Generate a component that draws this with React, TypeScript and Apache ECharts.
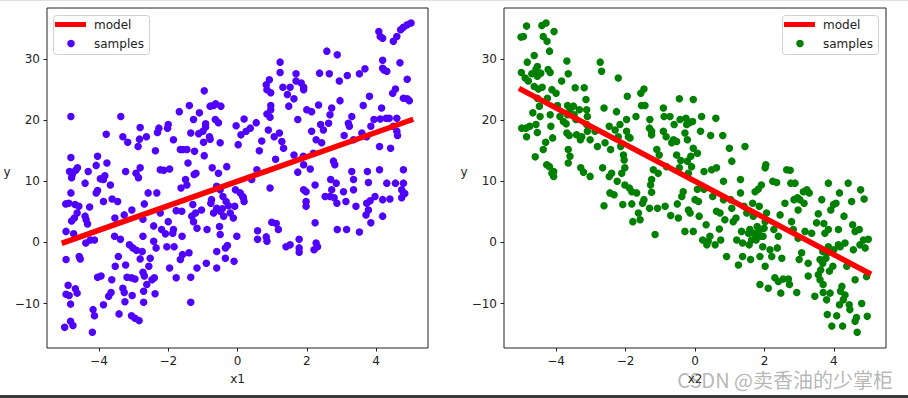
import React, { useEffect, useRef } from "react";
import * as echarts from "echarts";

// Sample points (x1, y) — left panel
const leftSamples: [number, number][] = [
  [-4.81, 20.6], [-4.81, 13.9], [-4.85, 11.6], [-4.77, 11.1], [-4.79, 10.6], [-4.67, 11.8], [-4.62, 12.2],
  [-4.81, 8.1], [-4.96, 6.3], [-4.87, 6.4], [-4.69, 6.2], [-4.58, 5.9], [-4.63, 4.8], [-4.71, 4.0], [-4.79, 3.5],
  [-4.95, 1.8], [-4.73, 1.4], [-4.95, -2.8], [-4.57, -2.3], [-4.54, -2.7], [-4.89, -7.0], [-4.95, -8.5],
  [-4.86, -8.7], [-4.68, -7.6], [-4.63, -8.3], [-4.82, -10.1], [-4.82, -12.9], [-4.75, -13.6], [-4.99, -13.9],
  [-4.4, 4.3], [-4.37, 3.7], [-4.33, 3.0], [-4.27, 5.8], [-4.31, 11.6], [-4.4, 9.7], [-4.38, -0.1], [-4.25, 0.4],
  [-4.13, 0.4], [-4.17, -11.0], [-4.13, -12.0], [-4.19, -14.7], [-4.04, 14.1], [-4.08, 12.6], [-4.08, 8.1],
  [-4.04, 8.5], [-3.96, 10.4], [-4.04, -5.7], [-3.94, -5.5], [-3.87, -10.2],
  [-3.79, 17.7], [-3.77, 13.0], [-3.83, 10.9], [-3.87, 10.3], [-3.67, 9.4], [-3.87, 6.7], [-3.62, 7.1],
  [-3.46, 6.7], [-3.55, 1.0], [-3.38, 0.5], [-3.53, -3.9], [-3.44, -2.3], [-3.63, -6.1], [-3.65, -8.2],
  [-3.72, -8.8], [-3.42, -11.7], [-3.37, 20.6], [-3.31, 17.3], [-3.17, 16.4], [-3.23, 11.6], [-2.93, 11.3],
  [-2.86, 10.6], [-2.81, 12.2], [-3.27, 4.5], [-3.05, 5.3], [-3.12, -0.4], [-3.02, -0.9], [-2.92, -1.3],
  [-3.23, -3.7], [-3.19, -5.7], [-3.06, -5.8], [-2.96, -6.0], [-3.31, -7.5], [-3.27, -8.2], [-3.04, -8.7],
  [-3.25, -9.7], [-3.06, -12.0], [-2.96, -12.4], [-2.84, -12.8], [-3.54, 4.0],
  [-2.81, 18.8], [-2.83, 16.9], [-2.87, 15.7], [-2.63, 17.3], [-2.69, 6.3], [-2.58, 8.1], [-2.73, 3.8],
  [-2.73, 1.0], [-2.75, -1.5], [-2.81, -2.7], [-2.73, -4.9], [-2.69, -5.5], [-2.71, -8.0], [-2.71, -9.8],
  [-2.62, -6.9], [-2.56, -3.9], [-2.52, -2.6], [-2.47, -6.1], [-2.4, -5.8], [-2.38, -8.4], [-2.42, 2.7],
  [-2.42, 0.2], [-2.35, -0.9], [-2.33, 8.1], [-2.37, 15.0], [-2.31, 18.0], [-2.27, 18.7], [-2.23, 11.9],
  [-2.13, 11.8], [-1.96, 12.0], [-2.0, 19.3], [-2.02, 18.7], [-2.19, 2.1], [-2.08, 1.4], [-2.04, -0.7],
  [-2.0, 3.4], [-2.23, 4.8], [-1.96, -4.2],
  [-1.85, 16.8], [-1.68, 21.4], [-1.65, 15.2], [-1.58, 15.2], [-1.46, 15.2], [-1.43, 13.0], [-1.63, 8.9],
  [-1.5, 10.3], [-1.46, 9.4], [-1.85, 2.1], [-1.87, 1.5], [-1.83, -0.7], [-1.77, -5.8], [-1.61, 5.1],
  [-1.6, 1.0], [-1.59, -2.0], [-1.65, -2.8], [-1.4, -1.7], [-1.39, 22.4], [-1.35, 17.9], [-1.24, 14.9],
  [-1.27, 20.1], [-1.25, 11.1], [-1.2, 11.3], [-1.29, 6.2], [-1.32, 4.3], [-1.21, 4.8], [-1.27, 3.4],
  [-1.17, 2.3], [-1.35, -5.7], [-1.35, -9.8], [-1.17, -4.2], [-1.1, 21.2], [-1.12, 17.8], [-1.0, 18.2],
  [-0.96, 24.8], [-0.96, 14.2], [-0.98, 16.4], [-1.04, 5.3], [-0.92, 19.4], [-0.92, 18.9],
  [-0.88, 2.1], [-0.9, -3.4], [-0.79, 22.3], [-0.69, 22.4], [-0.63, 22.7], [-0.48, 22.3], [-0.79, 16.9],
  [-0.81, 17.3], [-0.73, 12.2], [-0.75, 7.0], [-0.77, 6.4], [-0.64, 20.1], [-0.55, 19.6], [-0.5, 16.3],
  [-0.55, 11.3], [-0.6, 9.2], [-0.5, 8.6], [-0.69, 4.8], [-0.6, 5.6], [-0.5, 5.1], [-0.44, 5.5], [-0.52, 2.6],
  [-0.5, 1.3], [-0.6, -1.5], [-0.6, -4.2], [-0.31, 12.4], [-0.42, 7.5], [-0.33, 6.7], [-0.26, 6.0],
  [-0.4, 4.3], [-0.21, 4.8], [-0.35, -0.9], [-0.29, -0.5], [-0.35, -2.6], [-0.1, -3.1], [-0.04, 19.1],
  [0.02, 16.0], [-0.06, 8.6], [-0.08, 5.9], [-0.12, 4.0], [-0.02, 1.0],
  [0.1, 17.6], [0.19, 20.2], [0.25, 18.2], [0.37, 18.7], [0.08, 8.1], [0.15, 7.5], [0.19, 6.7], [0.17, 7.3],
  [0.41, 10.3], [0.54, 19.6], [0.56, 11.9], [0.63, 15.0], [0.58, 1.9], [0.58, 0.5], [0.83, 25.8], [0.85, 25.0],
  [0.92, 26.6], [0.96, 24.5], [0.7, 16.6], [0.83, 0.9], [0.85, 0.2], [0.85, 21.0], [0.94, 20.5], [0.96, 22.4],
  [0.96, 21.7], [0.89, 18.4], [0.94, 8.9], [0.99, 3.3],
  [1.06, 17.3], [1.1, 13.6], [1.12, 3.1], [1.18, 2.1], [1.23, 29.5], [1.23, 27.8], [1.31, 25.4], [1.21, 17.9],
  [1.28, 16.5], [1.33, 15.4], [1.44, 24.2], [1.48, 22.3], [1.52, 25.4], [1.4, -0.7], [1.52, -0.4], [1.63, 23.5],
  [1.69, 27.6], [1.69, 26.4], [1.63, 14.3], [1.74, 20.1], [1.74, 11.5], [1.78, 0.5], [1.78, -0.9], [1.78, -1.6],
  [1.84, 26.1], [1.91, 25.4], [1.91, 25.0], [1.9, 14.1], [1.91, 12.7], [1.91, 8.6], [1.98, 8.3], [1.98, 6.7],
  [1.98, 5.9],
  [2.0, 21.7], [2.14, 21.4], [2.1, 12.0], [2.14, 18.2], [2.19, 14.6], [2.24, 9.4], [2.24, 3.2], [2.21, -1.2],
  [2.27, -0.1], [2.31, -0.7], [2.27, 16.8], [2.34, 22.5], [2.37, 27.7], [2.4, 19.3], [2.43, 16.3], [2.48, 18.4],
  [2.53, 7.5], [2.58, 31.3], [2.65, 27.6], [2.63, 19.5], [2.67, 20.9], [2.72, 22.0], [2.69, 10.3], [2.72, 8.6],
  [2.67, 7.5], [2.77, 13.3], [2.81, 12.7], [2.79, 7.3], [2.85, 9.7], [2.87, 6.4], [2.88, 2.1], [2.88, 30.7],
  [2.94, 26.4], [2.96, 23.2],
  [3.06, 8.3], [3.08, 17.5], [3.13, 6.7], [3.15, 2.1], [3.17, 27.3], [3.2, 19.5], [3.23, 19.0], [3.3, 11.6],
  [3.3, 20.6], [3.35, 10.3], [3.35, 8.6], [3.35, 16.8], [3.42, 5.9], [3.52, 27.6], [3.52, 1.7], [3.63, 22.4],
  [3.68, 28.4], [3.59, 17.9], [3.73, 17.3], [3.75, 11.6], [3.78, 9.8], [3.73, 6.4], [3.78, 5.3], [3.71, 4.5],
  [3.85, 3.2], [3.83, 6.8], [3.81, 23.9], [3.85, 19.0], [3.97, 7.5], [3.94, 20.1],
  [4.1, 15.7], [4.1, 11.9], [4.12, 20.2], [4.08, 34.5], [4.12, 33.7], [4.19, 33.4], [4.19, 29.8], [4.19, 28.5],
  [4.23, 28.2], [4.31, 28.0], [4.16, 22.0], [4.19, 7.0], [4.19, 4.3], [4.29, 20.3], [4.31, 9.7], [4.38, 20.3],
  [4.42, 15.4], [4.4, 7.1], [4.48, 24.4], [4.5, 32.9], [4.5, 19.0], [4.56, 9.7], [4.6, 33.7], [4.56, 25.1],
  [4.6, 20.3], [4.6, 18.2], [4.62, 17.5], [4.69, 29.4], [4.71, 34.8], [4.79, 35.2], [4.9, 35.6], [5.01, 35.9],
  [4.79, 23.6], [4.9, 26.7], [4.9, 23.5], [4.96, 23.2], [4.79, 11.9], [4.79, 9.7], [4.74, 8.6], [4.79, 8.1],
  [4.74, 7.3], [4.83, 8.0], [-1.77, 5.2],
];

// Sample points (x2, y) — right panel
const rightSamples: [number, number][] = [
  [-4.94, 33.7], [-4.85, 35.4], [-5.01, 33.6], [-4.83, 29.5], [-5.0, 27.8], [-4.89, 26.9], [-4.8, 26.4],
  [-4.7, 27.6], [-4.63, 30.6], [-4.58, 28.3], [-4.54, 28.8], [-4.54, 27.2], [-4.44, 27.7], [-4.63, 25.5],
  [-4.51, 25.1], [-4.4, 25.4], [-4.67, 21.2], [-4.48, 22.3], [-4.54, 23.6], [-4.46, 20.6], [-4.99, 18.7],
  [-4.87, 18.7], [-4.76, 19.0], [-4.85, 17.3], [-4.58, 19.3], [-4.54, 18.0], [-4.6, 14.0], [-4.37, 15.2],
  [-4.3, 16.4], [-4.41, 35.5], [-4.29, 35.9], [-4.37, 33.7], [-4.26, 32.9], [-4.19, 31.3], [-4.06, 34.5],
  [-4.23, 28.3], [-4.17, 27.8], [-4.25, 23.6], [-4.12, 25.0], [-4.0, 24.4], [-4.17, 20.9], [-4.15, 19.0],
  [-4.1, 17.1], [-4.27, 12.7], [-4.19, 12.4], [-4.12, 11.3], [-4.07, 10.8], [-4.07, 11.6],
  [-3.96, 22.4], [-3.84, 26.4], [-3.89, 20.6], [-3.79, 19.8], [-3.69, 29.7], [-3.65, 27.6], [-3.67, 22.4],
  [-3.6, 21.7], [-3.67, 20.9], [-3.71, 19.4], [-3.69, 17.9], [-3.62, 17.5], [-3.65, 15.2], [-3.6, 14.1],
  [-3.65, 13.0], [-3.5, 22.3], [-3.48, 20.9], [-3.43, 20.1], [-3.45, 25.3], [-3.33, 21.7], [-3.3, 16.8],
  [-3.41, 17.6], [-3.26, 17.3], [-3.29, 12.2], [-3.21, 11.5], [-3.19, 25.3], [-3.14, 23.4], [-3.12, 21.7],
  [-3.1, 20.6], [-3.12, 19.3], [-3.1, 18.2], [-3.02, 16.8], [-3.02, 10.8],
  [-2.88, 18.2], [-2.81, 15.7], [-2.73, 29.5], [-2.69, 28.0], [-2.66, 12.2], [-2.62, 22.0], [-2.59, 16.3],
  [-2.62, 6.0], [-2.47, 19.0], [-2.43, 15.2], [-2.47, 10.8], [-2.4, 11.3], [-2.45, 8.1], [-2.33, 7.8],
  [-2.3, 18.4], [-2.26, 21.4], [-2.24, 10.0], [-2.21, 26.9], [-2.21, 17.3], [-2.16, 19.3], [-2.14, 15.7],
  [-2.11, 11.3], [-2.08, 6.2], [-2.06, 14.3], [-2.04, 13.5], [-2.02, 12.2], [-2.02, 9.4],
  [-1.95, 23.9], [-1.97, 20.1], [-1.97, 18.2], [-1.92, 17.3], [-1.87, 17.1], [-1.89, 8.9], [-1.82, 8.3],
  [-1.82, 6.3], [-1.79, 3.4], [-1.7, 20.6], [-1.68, 8.1], [-1.63, 4.8], [-1.58, 3.7], [-1.56, 24.4],
  [-1.47, 25.1], [-1.54, 22.4], [-1.44, 22.4], [-1.47, 7.0], [-1.51, 6.4], [-1.31, 18.7], [-1.3, 20.1],
  [-1.25, 18.2], [-1.25, 17.6], [-1.31, 5.6], [-1.25, 10.3], [-1.28, 9.4], [-1.25, 8.2], [-1.2, 11.9],
  [-1.15, 1.3], [-1.1, 15.2], [-1.08, 5.6], [-1.06, 11.3], [-1.03, 14.3],
  [-0.91, 22.0], [-0.89, 20.6], [-0.91, 18.2], [-0.86, 5.9], [-0.83, 17.3], [-0.82, 12.4], [-0.72, 20.6],
  [-0.7, 4.4], [-0.67, 16.3], [-0.62, 16.8], [-0.6, 19.3], [-0.53, 16.5], [-0.53, 14.3], [-0.51, 6.3],
  [-0.48, 4.0], [-0.45, 23.5], [-0.43, 20.1], [-0.41, 13.4], [-0.45, 12.2], [-0.38, 7.5], [-0.34, 8.3],
  [-0.29, 17.9], [-0.29, 1.8], [-0.26, 20.3], [-0.24, 19.3], [-0.22, 16.8], [-0.22, 13.3], [-0.19, 11.3],
  [-0.19, 5.3], [-0.16, 19.6], [-0.14, 4.8], [-0.12, 14.1], [-0.1, 12.4], [-0.05, 23.4], [-0.07, 19.8],
  [-0.05, 15.4], [-0.05, 1.8], [0.0, 7.0],
  [0.07, 14.6], [0.07, 8.7], [0.1, 6.7], [0.12, 4.3], [0.19, 20.6], [0.16, 18.2], [0.22, 0.4], [0.26, 11.6],
  [0.26, 8.7], [0.32, 2.9], [0.34, -0.4], [0.38, 0.2], [0.45, 17.5], [0.48, 11.9], [0.51, 7.5], [0.58, -0.4],
  [0.6, 20.3], [0.62, 12.2], [0.62, 5.1], [0.72, 4.8], [0.7, 2.2], [0.74, 0.4], [0.8, 17.5], [0.82, 10.0],
  [0.82, 7.0], [0.86, 3.7], [0.91, -2.3], [0.99, 15.4],
  [1.06, 13.3], [1.03, 7.0], [1.06, 5.6], [1.1, 3.4], [1.18, 4.0], [1.25, -3.7], [1.31, 10.3], [1.31, 8.1],
  [1.34, 1.8], [1.37, -0.1], [1.37, -2.3], [1.44, 15.7], [1.41, 5.9], [1.49, 4.8], [1.54, 1.5], [1.56, -0.4],
  [1.6, -2.8], [1.66, 6.4], [1.68, 4.3], [1.7, 1.5], [1.73, 8.3], [1.76, 0.4], [1.82, 8.7], [1.79, 2.6],
  [1.85, 5.9], [1.87, 2.1], [1.89, 1.0], [1.87, -2.3], [1.87, -6.9], [1.91, 9.4], [1.96, 1.0], [1.95, -0.7],
  [1.99, 2.3],
  [2.02, 12.2], [2.04, 12.7], [2.02, -3.9], [2.06, 4.8], [2.11, -7.5], [2.16, -1.2], [2.21, -2.3], [2.24, 10.0],
  [2.27, 2.1], [2.3, -5.8], [2.35, 9.8], [2.37, -0.9], [2.4, 1.0], [2.4, -6.4], [2.45, 4.5], [2.47, -8.3],
  [2.5, -2.6], [2.54, -6.0], [2.59, 6.4], [2.64, 11.9], [2.69, -6.0], [2.72, -6.9], [2.74, 11.8], [2.76, 9.7],
  [2.78, 3.4], [2.83, 2.1], [2.85, 7.0], [2.88, 9.7], [2.93, -8.2], [2.95, 7.3], [2.97, 5.3], [2.97, 0.7],
  [3.0, -2.8],
  [3.02, 7.0], [3.07, -1.7], [3.12, 8.3], [3.14, 6.4], [3.17, 1.8], [3.22, 8.6], [3.26, -3.4], [3.29, 8.1],
  [3.26, -5.5], [3.36, 1.5], [3.45, -8.8], [3.5, 3.2], [3.55, 4.7], [3.55, -5.3], [3.6, -6.1], [3.62, -4.5],
  [3.65, 7.0], [3.68, -1.5], [3.68, -3.4], [3.69, -6.9], [3.71, 3.1], [3.74, 1.5], [3.77, -2.6], [3.79, -9.4],
  [3.81, -11.8], [3.84, 9.7], [3.84, 2.1], [3.87, -4.7], [3.89, -8.3], [3.91, 5.3], [3.94, -13.7], [3.97, -3.9],
  [3.99, 6.2], [4.0, -1.2],
  [4.06, 6.4], [4.08, -12.0], [4.13, 2.1], [4.16, 8.1], [4.16, -10.2], [4.18, -0.7], [4.19, -8.0], [4.25, -13.7],
  [4.29, 4.3], [4.32, -0.1], [4.32, -8.6], [4.37, -3.9], [4.41, 9.7], [4.44, -10.2], [4.46, -11.0], [4.51, 6.7],
  [4.54, 2.9], [4.56, -1.2], [4.61, 1.8], [4.61, -6.1], [4.61, -12.9], [4.65, -12.3], [4.67, -14.7], [4.73, 2.1],
  [4.75, -0.4], [4.77, 8.6], [4.8, -10.0], [4.87, 7.1], [4.9, -0.9], [4.94, -5.6], [4.96, -12.1], [4.99, 0.5],
  [4.85, 0.4], [3.79, -1.8], [3.84, -0.7], [4.13, -0.4], [4.23, -7.2], [4.27, -9.4], [1.58, 2.1], [1.63, 0.4],
  [1.78, 1.5], [2.02, 3.4], [3.6, -2.8], [3.69, -8.2], [1.2, 0.4], [0.43, 1.0],
];

// Fitted model lines
const modelX = [-5, 5];
const leftModelY = [0, 20];
const rightModelY = [25, -5];

// Tick values
const xTicks = [-4, -2, 0, 2, 4];
const yTicks = [-10, 0, 10, 20, 30];

const FONT = "DejaVu Sans";
const TEXT = "#222";
const SAMPLE_LEFT = "#4f00ff";
const SAMPLE_RIGHT = "#008000";

const fmt = (v: number) => String(v).replace("-", "\u2212");

function xAxisFor(gridIndex: number) {
  return {
    type: "value",
    gridIndex,
    min: -5.5,
    max: 5.5,
    axisLine: { show: false, onZero: false },
    splitLine: { show: false },
    axisTick: { show: true, length: 3.5, lineStyle: { color: TEXT, width: 1 }, customValues: xTicks },
    axisLabel: { customValues: xTicks, formatter: fmt, fontSize: 12, color: TEXT, fontFamily: FONT, margin: 7 },
  };
}
function yAxisFor(gridIndex: number) {
  return {
    type: "value",
    gridIndex,
    min: -17.28,
    max: 38.36,
    axisLine: { show: false, onZero: false },
    splitLine: { show: false },
    axisTick: { show: true, length: 3.5, lineStyle: { color: TEXT, width: 1 }, customValues: yTicks },
    axisLabel: { customValues: yTicks, formatter: fmt, fontSize: 12, color: TEXT, fontFamily: FONT, margin: 7 },
  };
}

function legendGraphic(boxX: number, sampleColor: string) {
  return {
    type: "group",
    children: [
      {
        type: "rect",
        shape: { x: boxX + 0.5, y: 15.5, width: 96, height: 39, r: 3 },
        style: { fill: "rgba(255,255,255,0.8)", stroke: "#d0d0d0", lineWidth: 1 },
      },
      { type: "rect", shape: { x: boxX + 2, y: 22, width: 31, height: 5 }, style: { fill: "#ff0000" } },
      {
        type: "text",
        x: boxX + 41,
        y: 24.5,
        style: { text: "model", font: `12px "${FONT}"`, fill: TEXT, verticalAlign: "middle", align: "left" },
      },
      { type: "circle", shape: { cx: boxX + 18, cy: 43.5, r: 3.8 }, style: { fill: sampleColor } },
      {
        type: "text",
        x: boxX + 41,
        y: 43.5,
        style: { text: "samples", font: `12px "${FONT}"`, fill: TEXT, verticalAlign: "middle", align: "left" },
      },
    ],
  };
}

function axisText(text: string, x: number, y: number) {
  return {
    type: "text",
    x,
    y,
    style: { text, font: `12px "${FONT}"`, fill: TEXT, align: "center", verticalAlign: "middle" },
  };
}

export default function App() {
  const ref = useRef<HTMLDivElement>(null);
  useEffect(() => {
    if (!ref.current) return;
    const chart = echarts.init(ref.current, undefined, { renderer: "svg" });
    chart.setOption({
      animation: false,
      backgroundColor: "#ffffff",
      grid: [
        { left: 47, top: 8, width: 381, height: 340, show: true, borderColor: TEXT, borderWidth: 1, backgroundColor: "transparent" },
        { left: 504, top: 8, width: 382, height: 340, show: true, borderColor: TEXT, borderWidth: 1, backgroundColor: "transparent" },
      ],
      xAxis: [xAxisFor(0), xAxisFor(1)],
      yAxis: [yAxisFor(0), yAxisFor(1)],
      series: [
        {
          name: "samples",
          type: "scatter",
          xAxisIndex: 0,
          yAxisIndex: 0,
          symbolSize: 7.5,
          itemStyle: { color: SAMPLE_LEFT, opacity: 1 },
          data: leftSamples,
          z: 2,
        },
        {
          name: "model",
          type: "line",
          xAxisIndex: 0,
          yAxisIndex: 0,
          symbol: "none",
          lineStyle: { color: "#ff0000", width: 5.5, cap: "square" },
          data: modelX.map((x, i) => [x, leftModelY[i]]),
          z: 5,
        },
        {
          name: "samples ",
          type: "scatter",
          xAxisIndex: 1,
          yAxisIndex: 1,
          symbolSize: 7.5,
          itemStyle: { color: SAMPLE_RIGHT, opacity: 1 },
          data: rightSamples,
          z: 2,
        },
        {
          name: "model ",
          type: "line",
          xAxisIndex: 1,
          yAxisIndex: 1,
          symbol: "none",
          lineStyle: { color: "#ff0000", width: 5.5, cap: "square" },
          data: modelX.map((x, i) => [x, rightModelY[i]]),
          z: 5,
        },
      ],
      graphic: [
        legendGraphic(53, SAMPLE_LEFT),
        legendGraphic(782, SAMPLE_RIGHT),
        axisText("x1", 237.5, 379),
        axisText("x2", 695, 379),
        axisText("y", 7, 172),
        axisText("y", 464, 172),
        {
          type: "text",
          x: 893,
          y: 379,
          style: {
            text: "CSDN @卖香油的少掌柜",
            font: '20px "Noto Sans CJK SC"',
            fill: "rgba(120,120,120,0.55)",
            align: "right",
            verticalAlign: "middle",
          },
        },
        { type: "rect", shape: { x: 0, y: 0, width: 908, height: 1 }, style: { fill: "#e0e0e0" } },
        { type: "rect", shape: { x: 0, y: 395, width: 908, height: 3 }, style: { fill: "#3a3a3a" } },
      ],
    });
    return () => chart.dispose();
  }, []);
  return <div ref={ref} style={{ position: "absolute", left: 0, top: 0, width: 908, height: 398 }} />;
}
